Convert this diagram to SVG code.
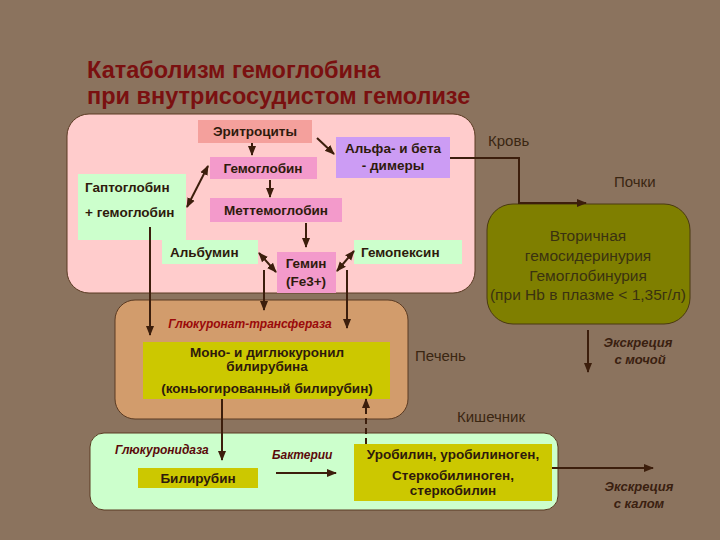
<svg xmlns="http://www.w3.org/2000/svg" width="720" height="540" viewBox="0 0 720 540">
<defs>
<style>
.t{font-family:"Liberation Sans",Arial,sans-serif;}
.title{font-size:23.5px;font-weight:bold;fill:#7A1010;}
.nb{font-size:13.5px;font-weight:bold;fill:#2E1A0C;}
.lab{font-size:15px;fill:#3A2612;}
.ol{font-size:15.5px;fill:#3A3210;}
.it{font-size:12px;font-style:italic;font-weight:bold;}
.ln{stroke:#3C1E0C;stroke-width:2;fill:none;}
.pink{fill:#F39ACB;}
.grn{fill:#CCFFCC;}
.yel{fill:#CCC800;}
</style>
<marker id="ah" viewBox="0 0 10 10" refX="9" refY="5" markerWidth="5" markerHeight="5" orient="auto-start-reverse">
<path d="M0,1 L10,5 L0,9 z" fill="#3C1E0C"/>
</marker>
</defs>
<rect width="720" height="540" fill="#8B735E"/>

<g id="title" class="t title">
<text x="87" y="78">Катаболизм гемоглобина</text>
<text x="87" y="104">при внутрисосудистом гемолизе</text>
</g>

<g id="regions">
<rect id="blood" x="67" y="114" width="408" height="179" rx="22" fill="#FFCCCC" stroke="#5A3A22" stroke-width="1"/>
<rect id="liver" x="115" y="300" width="293" height="119" rx="20" fill="#D29C6C" stroke="#5A3A22" stroke-width="1"/>
<rect id="intestine" x="90" y="433" width="468" height="77" rx="14" fill="#CCFFCC" stroke="#5A3A22" stroke-width="1"/>
<rect id="kidney" x="487" y="204" width="203" height="120" rx="26" fill="#7F7F00" stroke="#4A3A10" stroke-width="1"/>
</g>

<g id="labels" class="t lab">
<text x="488" y="146">Кровь</text>
<text x="614" y="187">Почки</text>
<text x="415" y="361">Печень</text>
<text x="457" y="422">Кишечник</text>
</g>

<g id="erythro"><rect x="198" y="120" width="114" height="23" fill="#F4A09C"/><text class="t nb" x="255" y="136" text-anchor="middle">Эритроциты</text></g>
<g id="hemoglobin"><rect class="pink" x="210" y="157" width="107" height="22"/><text class="t nb" x="263" y="173" text-anchor="middle">Гемоглобин</text></g>
<g id="dimers"><rect x="336" y="137" width="114" height="41" fill="#CC9CF4"/><text class="t nb" x="393" y="153" text-anchor="middle">Альфа- и бета</text><text class="t nb" x="393" y="170" text-anchor="middle">- димеры</text></g>
<g id="haptoglobin"><rect class="grn" x="78" y="174" width="108" height="66"/><text class="t nb" x="85" y="192">Гаптоглобин</text><text class="t nb" x="85" y="217">+ гемоглобин</text></g>
<g id="methemoglobin"><rect class="pink" x="210" y="198" width="132" height="24"/><text class="t nb" x="276" y="215" text-anchor="middle">Меттемоглобин</text></g>
<g id="albumin"><rect class="grn" x="162" y="240" width="96" height="24"/><text class="t nb" x="170" y="257">Альбумин</text></g>
<g id="hemin"><rect class="pink" x="277" y="252" width="59" height="41"/><text class="t nb" x="306" y="268" text-anchor="middle">Гемин</text><text class="t nb" x="306" y="286" text-anchor="middle">(Fe3+)</text></g>
<g id="hemopexin"><rect class="grn" x="354" y="240" width="108" height="24"/><text class="t nb" x="361" y="257">Гемопексин</text></g>

<g id="secondary" class="t ol" text-anchor="middle">
<text x="588" y="241">Вторичная</text>
<text x="588" y="261">гемосидеринурия</text>
<text x="588" y="281">Гемоглобинурия</text>
<text x="588" y="300">(при Hb в плазме &lt; 1,35г/л)</text>
</g>

<g id="enzyme1"><text class="t it" x="250" y="328" text-anchor="middle" fill="#9A0A0A">Глюкуронат-трансфераза</text></g>
<g id="conjugated"><rect class="yel" x="143" y="342" width="247" height="57"/>
<text class="t nb" x="267" y="357" text-anchor="middle">Моно- и диглюкуронил</text>
<text class="t nb" x="267" y="371" text-anchor="middle">билирубина</text>
<text class="t nb" x="267" y="393" text-anchor="middle">(коньюгированный билирубин)</text></g>

<g id="enzyme2"><text class="t it" x="115" y="454" fill="#5A0A0A">Глюкуронидаза</text></g>
<g id="bacteria"><text class="t it" x="272" y="459" fill="#5A0A0A">Бактерии</text></g>
<g id="bilirubin"><rect class="yel" x="138" y="468" width="120" height="20"/><text class="t nb" x="198" y="483" text-anchor="middle">Билирубин</text></g>
<g id="urobilin"><rect class="yel" x="354" y="444" width="198" height="57"/>
<text class="t nb" x="453" y="459" text-anchor="middle">Уробилин, уробилиноген,</text>
<text class="t nb" x="453" y="480" text-anchor="middle">Стеркобилиноген,</text>
<text class="t nb" x="453" y="495" text-anchor="middle">стеркобилин</text></g>

<g id="excr1" class="t it" fill="#3A2010" text-anchor="middle" style="font-size:13px"><text x="638" y="347">Экскреция</text><text x="640" y="364">с мочой</text></g>
<g id="excr2" class="t it" fill="#3A2010" text-anchor="middle" style="font-size:13px"><text x="639" y="491">Экскреция</text><text x="639" y="508">с калом</text></g>

<g id="connectors" class="ln">
<line x1="252" y1="143" x2="252" y2="155" marker-end="url(#ah)"/>
<line x1="317" y1="138" x2="334" y2="154" marker-end="url(#ah)"/>
<line x1="208" y1="166" x2="187" y2="207" marker-start="url(#ah)" marker-end="url(#ah)"/>
<line x1="270" y1="180" x2="270" y2="197" marker-end="url(#ah)"/>
<line x1="306" y1="223" x2="306" y2="247" marker-end="url(#ah)"/>
<line x1="259" y1="253" x2="276" y2="272" marker-start="url(#ah)" marker-end="url(#ah)"/>
<line x1="354" y1="251" x2="337" y2="271" marker-start="url(#ah)" marker-end="url(#ah)"/>
<polyline points="450,158 519,158 519,203 586,203" marker-end="url(#ah)"/>
<line x1="150" y1="227" x2="150" y2="335" marker-end="url(#ah)"/>
<line x1="264" y1="270" x2="264" y2="310" marker-end="url(#ah)"/>
<line x1="347" y1="270" x2="347" y2="328" marker-end="url(#ah)"/>
<line x1="588" y1="330" x2="588" y2="372" marker-end="url(#ah)"/>
<line x1="222" y1="399" x2="222" y2="460" marker-end="url(#ah)"/>
<line x1="366" y1="444" x2="366" y2="399" stroke-dasharray="6,4" marker-end="url(#ah)"/>
<line x1="276" y1="473" x2="336" y2="473" marker-end="url(#ah)"/>
<line x1="552" y1="468" x2="653" y2="468" marker-end="url(#ah)"/>
</g>
</svg>
